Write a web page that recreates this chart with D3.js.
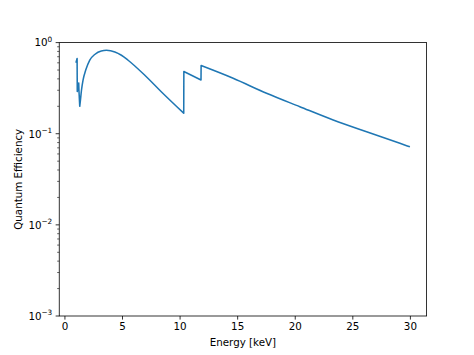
<!DOCTYPE html>
<html>
<head>
<meta charset="utf-8">
<script src="https://cdn.jsdelivr.net/npm/d3@7"></script>
<style>
  body { margin: 0; background: #fff; }
  text { font-family: "DejaVu Sans", sans-serif; fill: #000; }
</style>
</head>
<body>
<div id="chart"></div>
<script>
// Energy (keV) and quantum efficiency
var energy = [1.00, 1.10, 1.115, 1.20, 1.24, 1.26, 1.33, 1.39, 1.48, 1.62, 1.85, 2.20, 2.63, 3.20, 3.65,
              4.38, 4.95, 5.53, 6.98, 8.43, 10.36, 10.37, 11.86, 11.87, 14.65, 17.55, 20.44,
              23.34, 26.24, 29.13, 30.0];
var qe = [0.60, 0.67, 0.29, 0.35, 0.36, 0.30, 0.20, 0.234, 0.30, 0.39, 0.50, 0.644, 0.74, 0.81, 0.823,
          0.79, 0.726, 0.64, 0.438, 0.287, 0.168, 0.482, 0.389, 0.560, 0.406, 0.278, 0.198,
          0.1415, 0.105, 0.0785, 0.0718];
// absorption edges split the curve into smooth pieces (index where each piece starts)
var pieceStarts = [0, 6, 21, 23];
var xTicks = [0, 5, 10, 15, 20, 25, 30];
var yTicks = [1e-3, 1e-2, 1e-1, 1e0];
var yExp = ["\u22123", "\u22122", "\u22121", "0"];

var data = energy.map((e, i) => ({ x: e, y: qe[i] }));

var svgWidth = 474, svgHeight = 355;
var margin = { top: 42.6, bottom: 39, right: 47.4, left: 59.25 };
var width = svgWidth - margin.left - margin.right;
var height = svgHeight - margin.top - margin.bottom;

var svg = d3.select("#chart").append("svg")
  .attr("width", svgWidth)
  .attr("height", svgHeight);

var g = svg.append("g")
  .attr("transform", `translate(${margin.left}, ${margin.top})`);

// matplotlib style 5% x margins
var xPad = (30 - 1) * 0.05;
var xScale = d3.scaleLinear().domain([1 - xPad, 30 + xPad]).range([0, width]);
var yScale = d3.scaleLog().domain([1e-3, 1]).range([height, 0]);

// line: first piece straight, the rest smoothed, joined into one path
var straight = d3.line().x(d => xScale(d.x)).y(d => yScale(d.y));
var smooth = d3.line().x(d => xScale(d.x)).y(d => yScale(d.y)).curve(d3.curveMonotoneX);
var dStr = "";
pieceStarts.forEach(function(s, k) {
  var end = k + 1 < pieceStarts.length ? pieceStarts[k + 1] : data.length;
  var piece = data.slice(s, end);
  var seg = (k === 0 ? straight : smooth)(piece);
  if (k > 0) seg = "L" + seg.slice(1);
  dStr += seg;
});
g.append("path")
  .attr("fill", "none")
  .attr("stroke", "#1f77b4")
  .attr("stroke-width", 1.55)
  .attr("stroke-linejoin", "round")
  .attr("d", dStr);

// x axis
var xAxis = d3.axisBottom(xScale).tickValues(xTicks).tickSize(3.6).tickPadding(3.2);
var gx = g.append("g").attr("transform", `translate(0, ${height})`).call(xAxis);
gx.select(".domain").remove();
gx.selectAll("line").attr("stroke-width", 0.8);
gx.selectAll("text").attr("font-size", "10.3px").attr("font-family", "DejaVu Sans");

// y axis with minor ticks
var minor = [];
for (var p = -3; p < 0; p++) {
  for (var m = 2; m <= 9; m++) minor.push(m * Math.pow(10, p));
}
var gy = g.append("g");
gy.selectAll(".minor").data(minor).enter().append("line")
  .attr("x1", -2.1).attr("x2", 0)
  .attr("y1", d => yScale(d)).attr("y2", d => yScale(d))
  .attr("stroke", "#000").attr("stroke-width", 0.6);
gy.selectAll(".major").data(yTicks).enter().append("line")
  .attr("x1", -3.6).attr("x2", 0)
  .attr("y1", d => yScale(d)).attr("y2", d => yScale(d))
  .attr("stroke", "#000").attr("stroke-width", 0.8);
var lbl = gy.selectAll(".lbl").data(yTicks).enter().append("text")
  .attr("x", -7)
  .attr("y", d => yScale(d) + 3.8)
  .attr("text-anchor", "end")
  .attr("font-size", "10.3px");
lbl.append("tspan").text("10");
lbl.append("tspan").attr("dy", -4.5).attr("font-size", "7.3px").text((d, i) => yExp[i]);

// frame
g.append("rect")
  .attr("width", width).attr("height", height)
  .attr("fill", "none").attr("stroke", "#000").attr("stroke-width", 0.8);

// axis labels
svg.append("text")
  .attr("x", margin.left + width / 2)
  .attr("y", 346)
  .attr("text-anchor", "middle")
  .attr("font-size", "10.3px")
  .text("Energy [keV]");

svg.append("text")
  .attr("transform", `translate(21.5, ${margin.top + height / 2}) rotate(-90)`)
  .attr("text-anchor", "middle")
  .attr("font-size", "10.3px")
  .text("Quantum Efficiency");
</script>
</body>
</html>
